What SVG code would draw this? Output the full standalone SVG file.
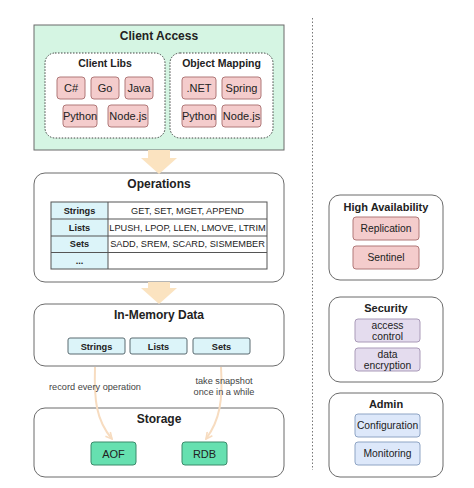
<svg xmlns="http://www.w3.org/2000/svg" width="474" height="488" viewBox="0 0 474 488">
<defs>
<style>
text{font-family:"Liberation Sans",Arial,sans-serif;fill:#222;text-anchor:middle;dominant-baseline:central}
.t{font-weight:bold;font-size:12px}
.st{font-weight:bold;font-size:10.5px}
.st2{font-weight:bold;font-size:11px}
.c{font-size:11px}
.r{font-size:10.3px}
.tb{font-size:9.2px}
.tbb{font-size:9.2px;font-weight:bold}
.lb{font-size:9.2px;fill:#444}
.box{fill:#fff;stroke:#6b6b6b;stroke-width:1}
.dot{fill:#fff;stroke:#444;stroke-width:1;stroke-dasharray:1.5 1.5}
.red{fill:#f4cccc;stroke:#b07878;stroke-width:1}
.cyan{fill:#dcf4f9;stroke:#5a6a70;stroke-width:1}
.grn{fill:#66e0b0;stroke:#3a8a6a;stroke-width:1}
.pur{fill:#e4dcee;stroke:#a99ab8;stroke-width:1}
.blu{fill:#dde8fa;stroke:#8ea4c4;stroke-width:1}
.big{fill:#fbe3c0;stroke:none}
.cur{fill:none;stroke:#f7dcc0;stroke-width:2}
</style>
<marker id="ah" viewBox="0 0 10 10" refX="9" refY="5" markerWidth="8" markerHeight="8" orient="auto" markerUnits="userSpaceOnUse">
<path d="M1,1 L9,5 L1,9" fill="none" stroke="#f7dcc0" stroke-width="2"/>
</marker>
</defs>

<line x1="312.5" y1="18" x2="312.5" y2="470" stroke="#777" stroke-width="1" stroke-dasharray="1.5 2"/>

<g id="client-access">
<rect x="34" y="25" width="250" height="125" fill="#d5f5e3" stroke="#6b6b6b"/>
<text class="t" x="159" y="36">Client Access</text>
<g id="client-libs">
<rect class="dot" x="45" y="53" width="120" height="85" rx="10"/>
<text class="st" x="105" y="63">Client Libs</text>
<rect class="red" x="57" y="77" width="28" height="22" rx="3"/><text class="c" x="71" y="88">C#</text>
<rect class="red" x="91" y="77" width="28" height="22" rx="3"/><text class="c" x="105" y="88">Go</text>
<rect class="red" x="125" y="77" width="28" height="22" rx="3"/><text class="c" x="139" y="88">Java</text>
<rect class="red" x="63" y="105" width="34" height="22" rx="3"/><text class="c" x="80" y="116">Python</text>
<rect class="red" x="108" y="105" width="40" height="22" rx="3"/><text class="c" x="128" y="116">Node.js</text>
</g>
<g id="object-mapping">
<rect class="dot" x="170" y="53" width="103" height="85" rx="10"/>
<text class="st" x="221.5" y="63">Object Mapping</text>
<rect class="red" x="182" y="77" width="34" height="22" rx="3"/><text class="c" x="199" y="88">.NET</text>
<rect class="red" x="222" y="77" width="39" height="22" rx="3"/><text class="c" x="241.5" y="88">Spring</text>
<rect class="red" x="182" y="105" width="34" height="22" rx="3"/><text class="c" x="199" y="116">Python</text>
<rect class="red" x="222" y="105" width="39" height="22" rx="3"/><text class="c" x="241.5" y="116">Node.js</text>
</g>
</g>

<g id="operations">
<rect class="box" x="34" y="173" width="250" height="109" rx="11"/>
<text class="t" x="159" y="184">Operations</text>
<rect x="51" y="202" width="57" height="67" fill="#dcf4f9"/>
<rect x="108" y="202" width="159" height="67" fill="#fff"/>
<g stroke="#555" stroke-width="1" fill="none">
<rect x="51" y="202" width="216" height="67"/>
<line x1="108" y1="202" x2="108" y2="269"/>
<line x1="51" y1="219" x2="267" y2="219"/>
<line x1="51" y1="236" x2="267" y2="236"/>
<line x1="51" y1="252.5" x2="267" y2="252.5"/>
</g>
<text class="tbb" x="79.5" y="210.5">Strings</text>
<text class="tbb" x="79.5" y="227.5">Lists</text>
<text class="tbb" x="79.5" y="244">Sets</text>
<text class="tbb" x="79.5" y="261">...</text>
<text class="tb" x="187.5" y="210.5">GET, SET, MGET, APPEND</text>
<text class="tb" x="187.5" y="227.5">LPUSH, LPOP, LLEN, LMOVE, LTRIM</text>
<text class="tb" x="187.5" y="244">SADD, SREM, SCARD, SISMEMBER</text>
</g>

<g id="in-memory-data">
<rect class="box" x="34" y="304" width="250" height="62" rx="11"/>
<text class="t" x="159" y="315">In-Memory Data</text>
<rect class="cyan" x="68" y="338" width="57" height="16" rx="2"/><text class="tbb" x="96.5" y="346.5">Strings</text>
<rect class="cyan" x="130" y="338" width="57" height="16" rx="2"/><text class="tbb" x="158.5" y="346.5">Lists</text>
<rect class="cyan" x="193" y="338" width="57" height="16" rx="2"/><text class="tbb" x="221.5" y="346.5">Sets</text>
</g>

<g id="storage">
<rect class="box" x="34" y="408" width="250" height="69" rx="11"/>
<text class="t" x="159" y="419">Storage</text>
<rect class="grn" x="91" y="442" width="45" height="23" rx="3"/><text class="c" x="113.5" y="453.5">AOF</text>
<rect class="grn" x="182" y="442" width="45" height="23" rx="3"/><text class="c" x="204.5" y="453.5">RDB</text>
</g>

<g id="high-availability">
<rect class="box" x="329" y="195" width="114" height="85" rx="11"/>
<text class="st2" x="386" y="207">High Availability</text>
<rect class="red" x="353" y="217" width="66" height="23" rx="3"/><text class="r" x="386" y="228.5">Replication</text>
<rect class="red" x="353" y="246" width="66" height="23" rx="3"/><text class="r" x="386" y="257.5">Sentinel</text>
</g>

<g id="security">
<rect class="box" x="329" y="297" width="114" height="85" rx="11"/>
<text class="st2" x="386" y="308">Security</text>
<rect class="pur" x="355" y="319" width="65" height="23" rx="3"/>
<text class="r" x="387.5" y="325">access</text><text class="r" x="387.5" y="336">control</text>
<rect class="pur" x="355" y="348" width="65" height="23" rx="3"/>
<text class="r" x="387.5" y="354">data</text><text class="r" x="387.5" y="365">encryption</text>
</g>

<g id="admin">
<rect class="box" x="329" y="393" width="114" height="84" rx="11"/>
<text class="st2" x="386" y="404">Admin</text>
<rect class="blu" x="355" y="414" width="65" height="23" rx="3"/><text class="r" x="387.5" y="425.5">Configuration</text>
<rect class="blu" x="355" y="442" width="65" height="23" rx="3"/><text class="r" x="387.5" y="453.5">Monitoring</text>
</g>

<g id="connectors">
<path class="big" d="M148,150 H170 V158 H177 L159,174 L141,158 H148 Z"/>
<path class="big" d="M148,282 H170 V288 H177 L159,304 L141,288 H148 Z"/>
<path class="cur" d="M95,367 C94,400 96,420 112,439" marker-end="url(#ah)"/>
<path class="cur" d="M221,367 C223,400 220,420 206,439" marker-end="url(#ah)"/>
<text class="lb" x="95" y="387">record every operation</text>
<text class="lb" x="224" y="381">take snapshot</text>
<text class="lb" x="224" y="392">once in a while</text>
</g>
</svg>
